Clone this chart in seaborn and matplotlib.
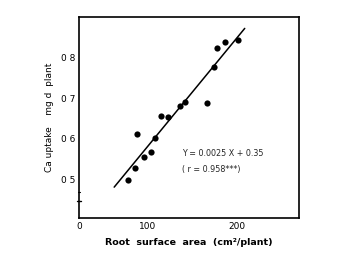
import matplotlib
matplotlib.use("Agg")
import matplotlib.pyplot as plt
import seaborn as sns
import pandas as pd

# data
root_area = [78, 86, 88, 95.5, 104, 108.5, 114.5, 122.5, 136, 142, 166, 174, 178, 187, 201]
ca_uptake = [0.498, 0.529, 0.611, 0.554, 0.568, 0.601, 0.655, 0.654, 0.682, 0.691, 0.689, 0.777, 0.824, 0.839, 0.843]
line_x = [62, 209]
line_y = [0.481, 0.872]
y_ticks = [0.5, 0.6, 0.7, 0.8]
y_labels = ["0 5", "0 6", "0 7", "0 8"]
x_ticks = [22.5, 100, 200]
x_labels = ["0", "100", "200"]

df = pd.DataFrame({"x": root_area, "y": ca_uptake})
sns.set_style("white")
plt.rcParams['font.family'] = ['DejaVu Sans']

fig = plt.figure(figsize=(3.5, 2.62), dpi=100)
ax = fig.add_axes([0.226, 0.168, 0.628, 0.767])
sns.scatterplot(data=df, x="x", y="y", ax=ax, color="black", s=20, edgecolor="black", linewidth=0, zorder=3)
sns.lineplot(x=line_x, y=line_y, ax=ax, color="black", linewidth=1.1)

ax.set_xlim(22.5, 270)
ax.set_ylim(0.405, 0.90)
ax.set_xticks(x_ticks)
ax.set_xticklabels(x_labels)
ax.set_yticks(y_ticks)
ax.set_yticklabels(y_labels)
ax.tick_params(direction="in", length=2.5, width=1, labelsize=6.5, colors="black", pad=3)
for s in ax.spines.values():
    s.set_color("black")
    s.set_linewidth(1.2)

# axis break mark
ax.plot([-0.008, 0.008], [0.446, 0.446], transform=ax.get_yaxis_transform(), color="black", lw=1.0, clip_on=False)
ax.plot([-0.004, 0.004], [0.468, 0.468], transform=ax.get_yaxis_transform(), color="black", lw=0.8, clip_on=False)

ax.set_xlabel("Root  surface  area  (cm\u00b2/plant)", fontsize=6.8, labelpad=5, color="black", fontweight="bold")
ax.set_ylabel("Ca uptake    mg d  plant", fontsize=6.5, labelpad=5, color="black")

ax.text(0.47, 0.32, "Y = 0.0025 X + 0.35", transform=ax.transAxes, fontsize=5.8, va="center", ha="left")
ax.text(0.47, 0.24, "( r = 0.958***)", transform=ax.transAxes, fontsize=5.8, va="center", ha="left")

fig.savefig("out.png", dpi=100)
